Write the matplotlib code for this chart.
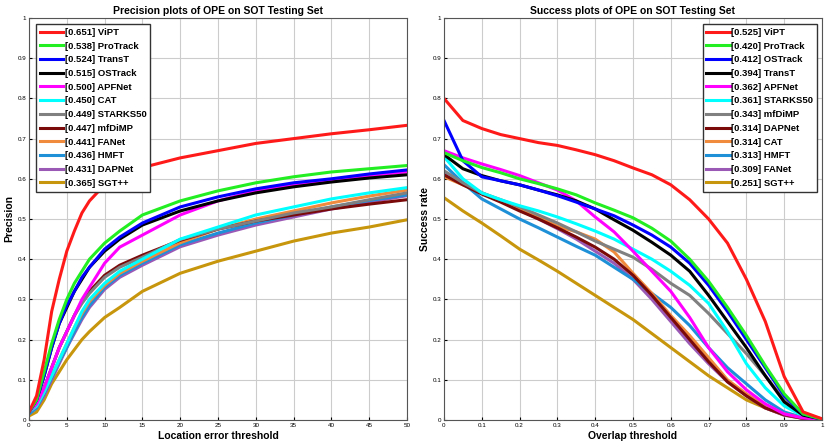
import numpy as np
import matplotlib
matplotlib.use('Agg')
import matplotlib.pyplot as plt

plt.rcParams['font.family'] = ['Liberation Sans', 'DejaVu Sans']

# precision plot data (location error threshold)
prec_x = [0, 1, 2, 3, 4, 5, 6, 7, 8, 10, 12, 15, 20, 25, 30, 35, 40, 45, 50]

prec_names = ['ViPT', 'ProTrack', 'TransT', 'OSTrack', 'APFNet', 'CAT', 'STARKS50',
              'mfDiMP', 'FANet', 'HMFT', 'DAPNet', 'SGT++']
prec_scores = [0.651, 0.538, 0.524, 0.515, 0.500, 0.450, 0.449, 0.447, 0.441, 0.436, 0.431, 0.365]

prec_vipt = [0.02, 0.06, 0.15, 0.27, 0.35, 0.42, 0.47, 0.515, 0.545, 0.585, 0.605, 0.628, 0.652, 0.67, 0.688, 0.70, 0.712, 0.722, 0.733]
prec_protrack = [0.02, 0.05, 0.12, 0.19, 0.25, 0.30, 0.34, 0.37, 0.40, 0.44, 0.47, 0.51, 0.545, 0.57, 0.59, 0.605, 0.617, 0.625, 0.633]
prec_transt = [0.02, 0.05, 0.11, 0.18, 0.24, 0.285, 0.32, 0.355, 0.38, 0.425, 0.455, 0.49, 0.53, 0.555, 0.575, 0.59, 0.60, 0.612, 0.622]
prec_ostrack = [0.02, 0.05, 0.11, 0.18, 0.24, 0.28, 0.32, 0.35, 0.38, 0.42, 0.45, 0.485, 0.52, 0.545, 0.565, 0.58, 0.592, 0.602, 0.61]
prec_apfnet = [0.02, 0.04, 0.08, 0.13, 0.18, 0.22, 0.26, 0.30, 0.33, 0.39, 0.43, 0.46, 0.51, 0.545, 0.57, 0.585, 0.598, 0.608, 0.617]
prec_cat = [0.02, 0.035, 0.07, 0.11, 0.15, 0.19, 0.23, 0.27, 0.30, 0.34, 0.37, 0.40, 0.450, 0.48, 0.51, 0.53, 0.55, 0.565, 0.578]
prec_starks = [0.02, 0.04, 0.08, 0.13, 0.18, 0.22, 0.26, 0.29, 0.315, 0.355, 0.38, 0.405, 0.449, 0.475, 0.495, 0.515, 0.53, 0.548, 0.565]
prec_mfdimp = [0.02, 0.04, 0.08, 0.13, 0.18, 0.22, 0.26, 0.295, 0.32, 0.36, 0.385, 0.41, 0.447, 0.475, 0.495, 0.51, 0.525, 0.537, 0.548]
prec_fanet = [0.02, 0.035, 0.07, 0.11, 0.15, 0.19, 0.23, 0.265, 0.295, 0.335, 0.365, 0.395, 0.441, 0.475, 0.50, 0.52, 0.54, 0.557, 0.572]
prec_hmft = [0.015, 0.03, 0.065, 0.105, 0.145, 0.18, 0.22, 0.255, 0.285, 0.33, 0.36, 0.39, 0.436, 0.465, 0.49, 0.51, 0.53, 0.546, 0.56]
prec_dapnet = [0.015, 0.03, 0.06, 0.10, 0.14, 0.18, 0.215, 0.25, 0.28, 0.325, 0.355, 0.385, 0.431, 0.46, 0.485, 0.505, 0.525, 0.542, 0.558]
prec_sgt = [0.01, 0.02, 0.05, 0.09, 0.12, 0.15, 0.175, 0.20, 0.22, 0.255, 0.28, 0.32, 0.365, 0.395, 0.42, 0.445, 0.465, 0.48, 0.498]

prec_series = [prec_vipt, prec_protrack, prec_transt, prec_ostrack, prec_apfnet, prec_cat,
               prec_starks, prec_mfdimp, prec_fanet, prec_hmft, prec_dapnet, prec_sgt]

# success plot data (overlap threshold)
succ_x = [0, 0.05, 0.1, 0.15, 0.2, 0.25, 0.3, 0.35, 0.4, 0.45, 0.5, 0.55, 0.6, 0.65, 0.7, 0.75, 0.8, 0.85, 0.9, 0.95, 1.0]

succ_names = ['ViPT', 'ProTrack', 'OSTrack', 'TransT', 'APFNet', 'STARKS50', 'mfDiMP',
              'DAPNet', 'CAT', 'HMFT', 'FANet', 'SGT++']
succ_scores = [0.525, 0.420, 0.412, 0.394, 0.362, 0.361, 0.343, 0.314, 0.314, 0.313, 0.309, 0.251]

succ_vipt = [0.80, 0.745, 0.725, 0.71, 0.70, 0.69, 0.683, 0.672, 0.66, 0.645, 0.627, 0.61, 0.585, 0.548, 0.50, 0.44, 0.35, 0.245, 0.108, 0.02, 0.003]
succ_protrack = [0.665, 0.645, 0.628, 0.615, 0.60, 0.588, 0.575, 0.56, 0.54, 0.522, 0.503, 0.477, 0.445, 0.40, 0.345, 0.28, 0.21, 0.135, 0.065, 0.015, 0.002]
succ_ostrack = [0.745, 0.645, 0.605, 0.595, 0.585, 0.572, 0.558, 0.542, 0.525, 0.508, 0.485, 0.46, 0.43, 0.39, 0.335, 0.27, 0.2, 0.13, 0.06, 0.015, 0.002]
succ_transt = [0.66, 0.625, 0.608, 0.595, 0.585, 0.572, 0.56, 0.545, 0.525, 0.498, 0.472, 0.442, 0.41, 0.37, 0.31, 0.245, 0.18, 0.11, 0.045, 0.012, 0.002]
succ_apfnet = [0.67, 0.652, 0.637, 0.623, 0.608, 0.59, 0.572, 0.545, 0.505, 0.468, 0.42, 0.37, 0.32, 0.255, 0.18, 0.12, 0.075, 0.04, 0.015, 0.005, 0.001]
succ_starks = [0.655, 0.60, 0.565, 0.548, 0.533, 0.52, 0.505, 0.488, 0.47, 0.45, 0.425, 0.40, 0.37, 0.335, 0.29, 0.22, 0.14, 0.08, 0.035, 0.01, 0.002]
succ_mfdimp = [0.62, 0.59, 0.565, 0.548, 0.53, 0.51, 0.49, 0.468, 0.445, 0.425, 0.405, 0.375, 0.34, 0.31, 0.265, 0.215, 0.165, 0.11, 0.05, 0.012, 0.002]
succ_dapnet = [0.61, 0.585, 0.562, 0.542, 0.52, 0.50, 0.478, 0.455, 0.43, 0.40, 0.36, 0.31, 0.255, 0.20, 0.145, 0.095, 0.06, 0.03, 0.013, 0.004, 0.001]
succ_cat = [0.605, 0.585, 0.565, 0.545, 0.525, 0.505, 0.482, 0.468, 0.45, 0.418, 0.365, 0.315, 0.26, 0.21, 0.155, 0.10, 0.065, 0.035, 0.015, 0.005, 0.001]
succ_hmft = [0.635, 0.59, 0.55, 0.525, 0.50, 0.478, 0.455, 0.432, 0.41, 0.38, 0.35, 0.315, 0.28, 0.235, 0.18, 0.13, 0.09, 0.05, 0.02, 0.006, 0.001]
succ_fanet = [0.615, 0.59, 0.565, 0.545, 0.522, 0.50, 0.476, 0.45, 0.42, 0.39, 0.35, 0.30, 0.245, 0.19, 0.14, 0.095, 0.06, 0.03, 0.012, 0.004, 0.001]
succ_sgt = [0.553, 0.52, 0.49, 0.458, 0.425, 0.398, 0.37, 0.34, 0.31, 0.28, 0.25, 0.215, 0.18, 0.145, 0.11, 0.08, 0.05, 0.03, 0.012, 0.004, 0.001]

succ_series = [succ_vipt, succ_protrack, succ_ostrack, succ_transt, succ_apfnet, succ_starks,
               succ_mfdimp, succ_dapnet, succ_cat, succ_hmft, succ_fanet, succ_sgt]

# colours per tracker name
colors = {
    'ViPT': '#ff1a1a', 'ProTrack': '#22ee22', 'TransT': '#0000ff', 'OSTrack': '#000000',
    'APFNet': '#ff00ff', 'CAT': '#00ffff', 'STARKS50': '#808080', 'mfDiMP': '#7a0a0a',
    'FANet': '#f08a3c', 'HMFT': '#1e90d8', 'DAPNet': '#9b59b6', 'SGT++': '#c8960c',
}
# the right plot swaps some colours
succ_colors = {
    'ViPT': '#ff1a1a', 'ProTrack': '#22ee22', 'OSTrack': '#0000ff', 'TransT': '#000000',
    'APFNet': '#ff00ff', 'STARKS50': '#00ffff', 'mfDiMP': '#808080', 'DAPNet': '#7a0a0a',
    'CAT': '#f08a3c', 'HMFT': '#1e90d8', 'FANet': '#9b59b6', 'SGT++': '#c8960c',
}

fig = plt.figure(figsize=(8.25, 4.47), dpi=100)
ax1 = fig.add_axes([29 / 825, 1 - 420 / 447, 378 / 825, 402 / 447])
ax2 = fig.add_axes([444 / 825, 1 - 420 / 447, 378 / 825, 402 / 447])


def style_axis(ax):
    ax.grid(True, color='#cccccc', linewidth=0.8)
    ax.set_axisbelow(True)
    ax.tick_params(direction='in', labelsize=4.5, length=2, pad=2)
    for s in ax.spines.values():
        s.set_color('#555555')
        s.set_linewidth(0.8)


legend_kw = dict(prop={'weight': 'bold', 'size': 6.8}, frameon=True, fancybox=False,
                 edgecolor='#333333', framealpha=1, handlelength=2.5, handletextpad=0.15,
                 labelspacing=0.5, borderpad=0.4, borderaxespad=0)

# left: precision
for name, score, ys in reversed(list(zip(prec_names, prec_scores, prec_series))):
    ax1.plot(prec_x, ys, color=colors[name], linewidth=2.2, label=f'[{score:.3f}] {name}')
ax1.set_xlim(0, 50)
ax1.set_ylim(0, 1)
ax1.set_xticks(range(0, 51, 5))
ax1.set_yticks(np.arange(0, 1.01, 0.1))
ax1.set_yticklabels(['0', '0.1', '0.2', '0.3', '0.4', '0.5', '0.6', '0.7', '0.8', '0.9', '1'])
style_axis(ax1)
ax1.set_title('Precision plots of OPE on SOT Testing Set', fontsize=7.5, fontweight='bold', pad=3)
ax1.set_xlabel('Location error threshold', fontsize=7.5, fontweight='bold', labelpad=2)
ax1.set_ylabel('Precision', fontsize=7.5, fontweight='bold', labelpad=2)
h, l = ax1.get_legend_handles_labels()
ax1.legend(h[::-1], l[::-1], loc='upper left', bbox_to_anchor=(0.018, 0.985), **legend_kw)

# right: success
for name, score, ys in reversed(list(zip(succ_names, succ_scores, succ_series))):
    ax2.plot(succ_x, ys, color=succ_colors[name], linewidth=2.2, label=f'[{score:.3f}] {name}')
ax2.set_xlim(0, 1)
ax2.set_ylim(0, 1)
ax2.set_xticks(np.arange(0, 1.01, 0.1))
ax2.set_xticklabels(['0', '0.1', '0.2', '0.3', '0.4', '0.5', '0.6', '0.7', '0.8', '0.9', '1'])
ax2.set_yticks(np.arange(0, 1.01, 0.1))
ax2.set_yticklabels(['0', '0.1', '0.2', '0.3', '0.4', '0.5', '0.6', '0.7', '0.8', '0.9', '1'])
style_axis(ax2)
ax2.set_title('Success plots of OPE on SOT Testing Set', fontsize=7.5, fontweight='bold', pad=3)
ax2.set_xlabel('Overlap threshold', fontsize=7.5, fontweight='bold', labelpad=2)
ax2.set_ylabel('Success rate', fontsize=7.5, fontweight='bold', labelpad=2)
h, l = ax2.get_legend_handles_labels()
ax2.legend(h[::-1], l[::-1], loc='upper right', bbox_to_anchor=(0.987, 0.985), **legend_kw)

fig.savefig('out.png', dpi=100, facecolor='white')
